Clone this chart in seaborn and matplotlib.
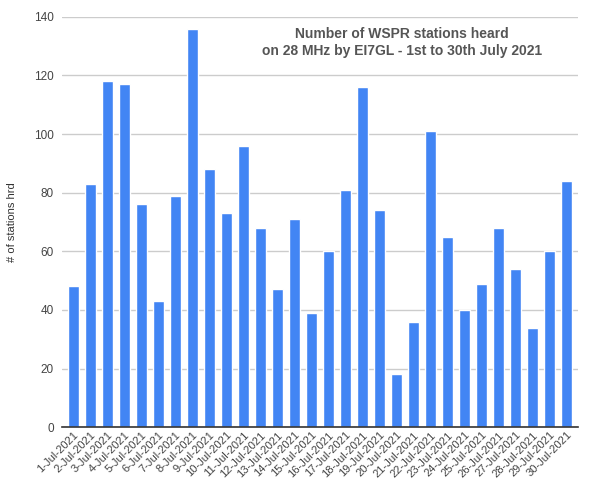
import pandas as pd
import matplotlib
matplotlib.use("Agg")
import matplotlib.pyplot as plt
import seaborn as sns

# Data
days = [f"{d}-Jul-2021" for d in range(1, 31)]
stations = [48, 83, 118, 117, 76, 43, 79, 136, 88, 73,
            96, 68, 47, 71, 39, 60, 81, 116, 74, 18,
            36, 101, 65, 40, 49, 68, 54, 34, 60, 84]
y_ticks = [0, 20, 40, 60, 80, 100, 120, 140]

df = pd.DataFrame({"day": days, "stations": stations})

sns.set_style("white")
plt.rcParams["font.family"] = ["Arial", "Liberation Sans", "DejaVu Sans"]

fig = plt.figure(figsize=(5.91, 4.95), dpi=100)
ax = fig.add_axes([0.105, 0.137, 0.873, 0.829])

sns.barplot(x="day", y="stations", data=df, color="#4285F4",
            saturation=1, width=0.65, ax=ax)

ax.set_ylim(0, 140)
ax.set_xlim(-0.65, 29.65)
ax.set_yticks(y_ticks)
ax.yaxis.grid(True, color="#cccccc", linewidth=1)
ax.set_axisbelow(True)
for s in ["top", "right", "left"]:
    ax.spines[s].set_visible(False)
ax.spines["bottom"].set_color("#333333")
ax.spines["bottom"].set_linewidth(1.2)

ax.tick_params(axis="y", length=0, labelsize=8.5, labelcolor="#444444", pad=6)
ax.tick_params(axis="x", length=0, labelsize=8, labelcolor="#444444", pad=2)
plt.setp(ax.get_xticklabels(), rotation=45, ha="right", rotation_mode="anchor")

ax.set_xlabel("")
ax.set_ylabel("# of stations hrd", fontsize=8, color="#333333", labelpad=12)

ax.text(0.659, 0.976, "Number of WSPR stations heard\non 28 MHz by EI7GL - 1st to 30th July 2021",
        transform=ax.transAxes, ha="center", va="top", fontsize=10,
        fontweight="bold", color="#555555", linespacing=1.3)

plt.savefig("out.png", dpi=100)
